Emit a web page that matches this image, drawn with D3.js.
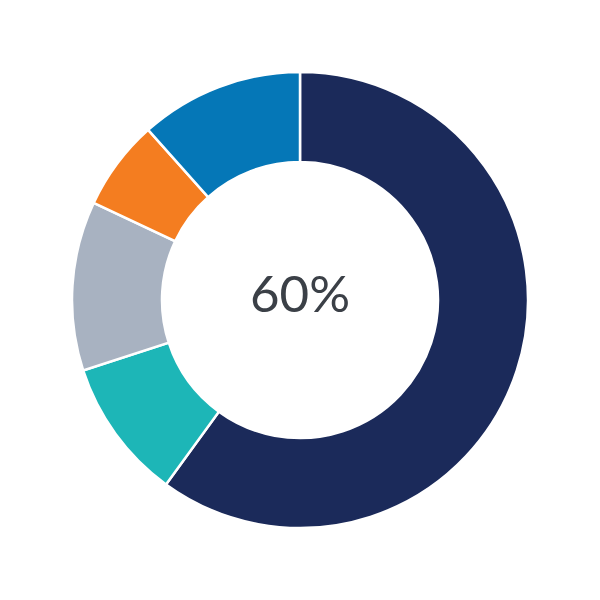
<!DOCTYPE html>
<html><head><meta charset="utf-8">
<script src="https://cdn.jsdelivr.net/npm/d3@7"></script>
<style>html,body{margin:0;padding:0;background:#fff;}</style>
</head><body>
<svg id="chart" width="600" height="600"></svg>
<script>
const categories = ["A", "B", "C", "D", "E"];
const values = [60, 10, 12, 6.4, 11.6];
const colors = ["#1b2a5a", "#1db6b7", "#a8b2c1", "#f47d20", "#0577b7"];
const centerLabel = "60%";

const svg = d3.select("#chart");
const g = svg.append("g").attr("transform", "translate(300,300)");
const pie = d3.pie().sort(null).value(d => d.v);
const arc = d3.arc().innerRadius(138).outerRadius(228);
const data = categories.map((c, i) => ({c, v: values[i], col: colors[i]}));
g.selectAll("path").data(pie(data)).join("path")
  .attr("d", arc)
  .attr("fill", d => d.data.col)
  .attr("stroke", "#fff")
  .attr("stroke-width", 2.5);
g.append("text").attr("text-anchor", "middle").attr("y", 12)
  .attr("font-family", "Lato").attr("font-weight", 400).attr("font-size", 51)
  .attr("fill", "#3b4047").text(centerLabel);
</script>
</body></html>
